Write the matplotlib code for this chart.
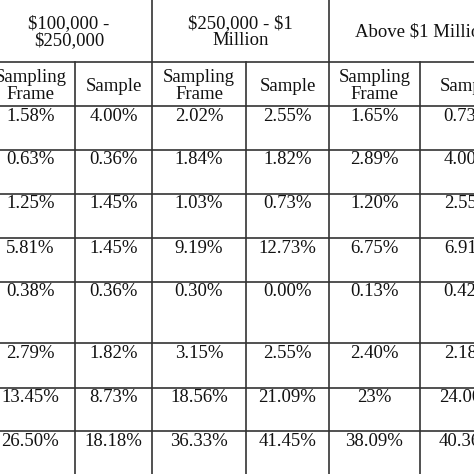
import matplotlib
matplotlib.use("Agg")
import matplotlib.pyplot as plt
plt.rcParams["text.parse_math"] = False

groups = ["$100,000 -\n$250,000", "$250,000 - $1\nMillion", "Above $1 Million"]
subheads = ["Sampling\nFrame", "Sample"] * 3
rows = [
    ["1.58%", "4.00%", "2.02%", "2.55%", "1.65%", "0.73%"],
    ["0.63%", "0.36%", "1.84%", "1.82%", "2.89%", "4.00%"],
    ["1.25%", "1.45%", "1.03%", "0.73%", "1.20%", "2.55%"],
    ["5.81%", "1.45%", "9.19%", "12.73%", "6.75%", "6.91%"],
    ["0.38%", "0.36%", "0.30%", "0.00%", "0.13%", "0.42%"],
    ["2.79%", "1.82%", "3.15%", "2.55%", "2.40%", "2.18%"],
    ["13.45%", "8.73%", "18.56%", "21.09%", "23%", "24.00%"],
    ["26.50%", "18.18%", "36.33%", "41.45%", "38.09%", "40.36%"],
]

fig = plt.figure(figsize=(4.74, 4.74), dpi=100)
ax = fig.add_axes([0, 0, 1, 1])
ax.set_xlim(0, 474)
ax.set_ylim(474, 0)
ax.axis("off")
font = dict(family="Liberation Serif", fontsize=13.5, color="#111111")
lc = "#333333"
lw = 1.2

xedges = [-14, 75, 152, 246, 329, 420, 516]
gx = [xedges[0], xedges[2], xedges[4], xedges[6]]
hy = [62, 106]
ry = [106, 150, 194, 238, 282, 343, 388, 431, 480]

for i, x in enumerate(xedges[1:-1], start=1):
    top = 0 if i % 2 == 0 else hy[0]
    ax.plot([x, x], [top, 480], color=lc, lw=lw)
for y in [hy[0]] + ry[:-1]:
    ax.plot([-20, 500], [y, y], color=lc, lw=lw)

for g, t in enumerate(groups):
    cx = (gx[g] + gx[g + 1]) / 2
    ax.text(cx, 32, t, ha="center", va="center", linespacing=1.05, **font)
for c, t in enumerate(subheads):
    cx = (xedges[c] + xedges[c + 1]) / 2
    ax.text(cx, 86, t, ha="center", va="center", linespacing=1.0, **font)
for r, row in enumerate(rows):
    y = ry[r] + 10
    for c, t in enumerate(row):
        cx = (xedges[c] + xedges[c + 1]) / 2
        ax.text(cx, y, t, ha="center", va="center", **font)

fig.savefig("out.png", dpi=100)
